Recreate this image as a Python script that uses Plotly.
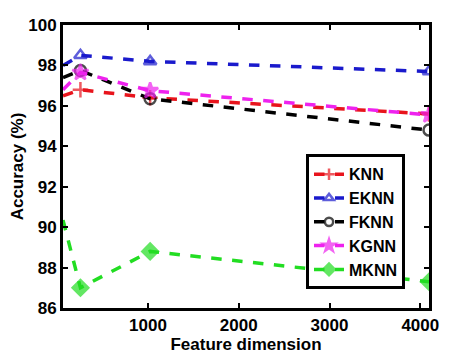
import plotly.graph_objects as go

dims = [64, 256, 1024, 4096]
knn = [96.5, 96.8, 96.4, 95.6]
eknn = [98.0, 98.5, 98.2, 97.7]
fknn = [97.4, 97.75, 96.35, 94.8]
kgnn = [96.8, 97.65, 96.75, 95.55]
mknn = [90.35, 87.0, 88.8, 87.3]
x_ticks = [1000, 2000, 3000, 4000]
y_ticks = [86, 88, 90, 92, 94, 96, 98, 100]

series = [
    ("KNN", knn, "#e8141c", "cross-thin", 11),
    ("EKNN", eknn, "#1a1acc", "triangle-up-open", 11),
    ("FKNN", fknn, "#000000", "circle-open", 11),
    ("KGNN", kgnn, "#ee22ee", "star", 12),
    ("MKNN", mknn, "#22dd22", "diamond", 12),
]

fig = go.Figure()
for name, vals, col, sym, sz in series:
    fig.add_trace(go.Scatter(
        x=dims, y=vals, name=name, mode="lines+markers",
        line=dict(color=col, width=3.5, dash="dash"),
        marker=dict(symbol=sym, size=[0, sz, sz, sz], color=col,
                    line=dict(color=col, width=2.5)),
        cliponaxis=True,
    ))

FAM = "Liberation Sans, Arial, sans-serif"
fig.update_layout(
    width=466, height=347,
    margin=dict(l=55, r=45, t=17, b=47),
    paper_bgcolor="white", plot_bgcolor="white",
    font=dict(family=FAM, size=17, color="black"),
    showlegend=True,
    legend=dict(x=0.664, y=0.066, xanchor="left", yanchor="bottom",
                bordercolor="black", borderwidth=3, bgcolor="white",
                font=dict(family=FAM, size=16, color="black", weight="bold"),
                itemwidth=30, tracegroupgap=0),
)
fig.update_xaxes(
    range=[64, 4096], tickvals=x_ticks,
    ticks="inside", ticklen=5, tickwidth=2, tickcolor="black",
    showline=True, linecolor="black", linewidth=3, mirror="ticks",
    showgrid=False, zeroline=False, automargin=False,
    tickfont=dict(size=17, weight="bold"),
    title=dict(text="Feature dimension", font=dict(size=17, weight="bold"), standoff=3),
)
fig.update_yaxes(
    range=[86, 100], tickvals=y_ticks,
    ticks="inside", ticklen=5, tickwidth=2, tickcolor="black",
    showline=True, linecolor="black", linewidth=3, mirror="ticks",
    showgrid=False, zeroline=False, automargin=False,
    tickfont=dict(size=17, weight="bold"),
    title=dict(text="Accuracy (%)", font=dict(size=17, weight="bold"), standoff=6),
)
fig.write_html("out.html")
